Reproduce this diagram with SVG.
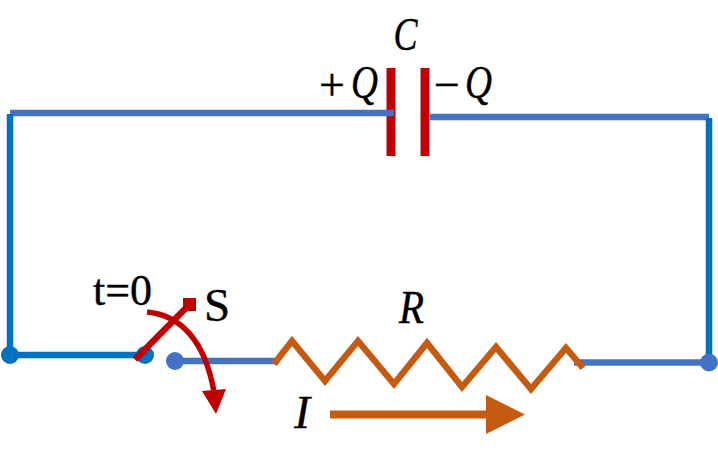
<svg xmlns="http://www.w3.org/2000/svg" width="718" height="456" viewBox="0 0 718 456">
<style>
.w{fill:none;stroke-width:6.500}
.a{stroke:#4472c4}
.b{stroke:#0070c0}
.t{font-family:"Liberation Serif","DejaVu Serif",serif;font-size:44px;fill:#000;stroke:#000;stroke-width:.4}
.i{font-style:italic;font-size:47px}
.red{fill:#c00000}
.or{fill:#c55a11}
</style>
<rect width="718" height="456" fill="#fff"/>
<g id="capacitor">
<rect class="red" x="386.500" y="68" width="9" height="88"/>
<rect class="red" x="420.500" y="68" width="9" height="88"/>
<text class="t i" x="405.500" y="50" text-anchor="middle" textLength="24" lengthAdjust="spacingAndGlyphs">C</text>
<text class="t" x="319" y="100" style="font-size:46px">+</text>
<text class="t i" x="351" y="98" textLength="27" lengthAdjust="spacingAndGlyphs">Q</text>
<text class="t" x="434" y="100" style="font-size:46px">−</text>
<text class="t i" x="465" y="98" textLength="27" lengthAdjust="spacingAndGlyphs">Q</text>
</g>
<g id="connectors">
<path class="w a" d="M10 113H394"/>
<path class="w a" d="M430 117H709"/>
<path class="w b" d="M10 114V355H145"/>
<path class="w b" d="M709 118V362"/>
<path class="w a" d="M175 361H279"/>
<path class="w a" d="M574 362.500H709"/>
</g>
<g id="node-left-a"><circle cx="10" cy="355" r="9" fill="#0070c0"/></g>
<g id="node-left-b"><circle cx="145" cy="355" r="9" fill="#0070c0"/></g>
<g id="node-switch-contact"><circle cx="175" cy="361" r="9" fill="#4472c4"/></g>
<g id="node-right"><circle cx="709" cy="362.500" r="9" fill="#4472c4"/></g>
<g id="switch">
<path d="M135 359.500L186 308" fill="none" stroke="#c00000" stroke-width="6.500"/>
<rect class="red" x="183" y="298" width="13" height="13"/>
<path d="M147 312C180 315 205 340 214 392" fill="none" stroke="#c00000" stroke-width="5.500"/>
<polygon class="red" points="202,391 226,389 216,414"/>
<text class="t" x="93" y="305">t=0</text>
<text class="t" x="204" y="321" style="font-size:47px">S</text>
</g>
<g id="resistor">
<path d="M274 364L292 341L325 381L358 341L394 384L427 343L462 387L496 347L531 389L566 348L583 368" fill="none" stroke="#c55a11" stroke-width="6.500"/>
<text class="t i" x="411.500" y="323" text-anchor="middle" textLength="25" lengthAdjust="spacingAndGlyphs">R</text>
</g>
<g id="current">
<path d="M330 414.500H488" fill="none" stroke="#c55a11" stroke-width="8"/>
<polygon class="or" points="486,395 525,414.500 486,434"/>
<text class="t i" x="302" y="428" text-anchor="middle">I</text>
</g>
</svg>
